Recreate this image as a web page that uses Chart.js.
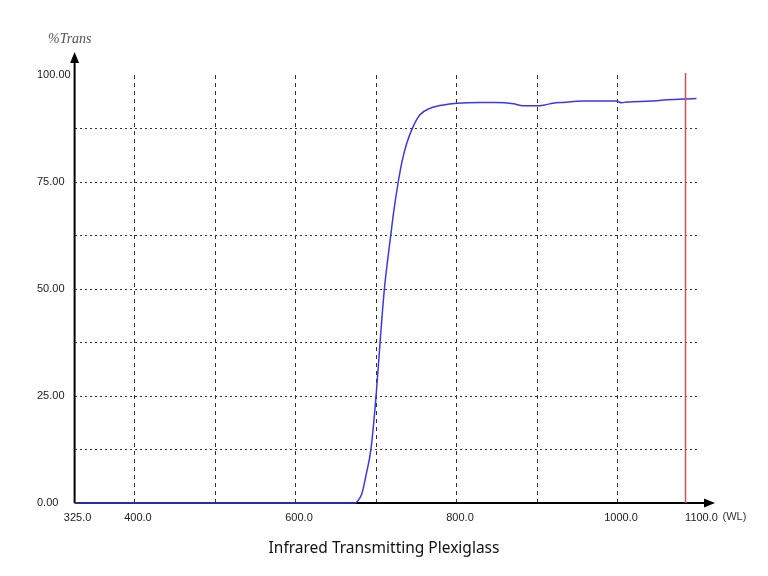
<!DOCTYPE html>
<html>
<head>
<meta charset="utf-8">
<script src="https://cdn.jsdelivr.net/npm/chart.js@4/dist/chart.umd.min.js"></script>
<style>
  html, body { margin: 0; padding: 0; background: #fff; }
  #wrap { width: 768px; height: 576px; position: relative; }
</style>
</head>
<body>
<div id="wrap"><canvas id="c" width="768" height="576"></canvas></div>
<script>
// ---- data ----
const wavelength = [325, 400, 500, 600, 660, 673, 678, 682, 687, 693, 699.4, 704.4, 709.7, 714, 718, 721, 727, 732, 737.5, 745.7, 754, 766.5, 783, 800, 828.6, 849, 870, 882, 899, 909, 919, 932, 957, 978, 998, 1004.6, 1011, 1040, 1060.5, 1081, 1097.5];
const transmission = [0, 0, 0, 0, 0, 0, 0.8, 2.3, 6.5, 12.4, 24.8, 37.4, 49.8, 57, 63, 67.5, 75, 80, 84, 88, 90.7, 92.2, 93.0, 93.4, 93.6, 93.6, 93.3, 92.8, 92.8, 93.0, 93.4, 93.6, 93.9, 93.9, 93.9, 93.5, 93.7, 93.9, 94.2, 94.4, 94.5];
const xTicks = [325, 400, 500, 600, 700, 800, 900, 1000, 1100];
const xLabelled = [325, 400, 600, 800, 1000, 1100];
const yTicks = [0, 12.5, 25, 37.5, 50, 62.5, 75, 87.5, 100];
const yLabelled = [0, 25, 50, 75, 100];
const markerWL = 1083;
const chartTitle = 'Infrared Transmitting Plexiglass';
const yAxisName = '%Trans';
const xAxisUnit = '(WL)';

const points = wavelength.map((w, i) => ({ x: w, y: transmission[i] }));

const decor = {
  id: 'decor',
  beforeDatasetsDraw(chart) {
    const { ctx, chartArea: a } = chart;
    ctx.save();
    ctx.strokeStyle = '#000';
    ctx.fillStyle = '#000';
    ctx.lineWidth = 2;
    // y axis with arrow
    ctx.beginPath();
    ctx.moveTo(a.left, a.bottom);
    ctx.lineTo(a.left, 60);
    ctx.stroke();
    ctx.beginPath();
    ctx.moveTo(a.left, 52);
    ctx.lineTo(a.left - 4.5, 63);
    ctx.lineTo(a.left + 4.5, 63);
    ctx.closePath();
    ctx.fill();
    // x axis with arrow
    ctx.beginPath();
    ctx.moveTo(a.left, a.bottom);
    ctx.lineTo(706, a.bottom);
    ctx.stroke();
    ctx.beginPath();
    ctx.moveTo(715, a.bottom);
    ctx.lineTo(704, a.bottom - 4.5);
    ctx.lineTo(704, a.bottom + 4.5);
    ctx.closePath();
    ctx.fill();
    ctx.restore();
  },
  afterDatasetsDraw(chart) {
    const { ctx, chartArea: a, scales } = chart;
    ctx.save();
    // red marker line
    const mx = Math.round(scales.x.getPixelForValue(markerWL)) + 0.5;
    ctx.strokeStyle = '#d05050';
    ctx.lineWidth = 1.5;
    ctx.beginPath();
    ctx.moveTo(mx, a.top - 2);
    ctx.lineTo(mx, a.bottom);
    ctx.stroke();
    // axis name
    ctx.fillStyle = '#555';
    ctx.font = 'italic 14px "Liberation Serif"';
    ctx.textBaseline = 'middle';
    ctx.textAlign = 'left';
    ctx.fillText(yAxisName, 48, 39);
    // unit
    ctx.fillStyle = '#333';
    ctx.font = '11px "Liberation Sans"';
    ctx.fillText(xAxisUnit, scales.x.getPixelForValue(1100) + 24, 517);
    // title
    ctx.fillStyle = '#111';
    ctx.font = '15.5px "Noto Sans"';
    ctx.textAlign = 'center';
    ctx.fillText(chartTitle, 384, 549);
    ctx.restore();
  }
};

new Chart(document.getElementById('c'), {
  type: 'line',
  data: {
    datasets: [{
      data: points,
      borderColor: '#3a3ae0',
      borderWidth: 1.5,
      pointRadius: 0,
      cubicInterpolationMode: 'monotone',
      clip: 6,
      fill: false
    }]
  },
  options: {
    responsive: false,
    animation: false,
    layout: { padding: { left: 37, top: 75, right: 69.5, bottom: 0 } },
    plugins: { legend: { display: false }, tooltip: { enabled: false }, title: { display: false } },
    scales: {
      x: {
        type: 'linear',
        min: 325,
        max: 1100,
        afterBuildTicks: s => { s.ticks = xTicks.map(v => ({ value: v })); },
        afterFit: s => { s.height = 73; },
        border: { display: false, dash: [4, 4] },
        grid: {
          drawTicks: false,
          color: c => (c.tick && (c.tick.value === 325 || c.tick.value === 1100)) ? 'rgba(0,0,0,0)' : '#333',
          lineWidth: 1
        },
        ticks: {
          autoSkip: false,
          maxRotation: 0,
          padding: 8,
          labelOffset: 3,
          color: '#222',
          font: { family: '"Liberation Sans"', size: 11 },
          callback: v => xLabelled.includes(v) ? Number(v).toFixed(1) : ''
        }
      },
      y: {
        type: 'linear',
        min: 0,
        max: 100,
        afterBuildTicks: s => { s.ticks = yTicks.map(v => ({ value: v })); },
        afterFit: s => { s.width = 37.6; },
        border: { display: false, dash: [2, 3] },
        grid: {
          drawTicks: false,
          color: c => (c.tick && (c.tick.value === 0 || c.tick.value === 100)) ? 'rgba(0,0,0,0)' : '#333',
          lineWidth: 1
        },
        ticks: {
          autoSkip: false,
          crossAlign: 'far',
          color: '#222',
          font: { family: '"Liberation Sans"', size: 11 },
          callback: v => yLabelled.includes(v) ? Number(v).toFixed(2) : ''
        }
      }
    }
  },
  plugins: [decor]
});
</script>
</body>
</html>
